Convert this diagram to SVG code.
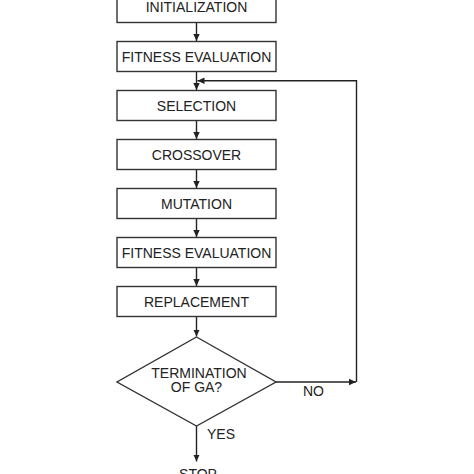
<svg xmlns="http://www.w3.org/2000/svg" width="474" height="474" viewBox="0 0 474 474">
<defs>
<marker id="ah" markerWidth="8" markerHeight="8" refX="7" refY="4" orient="auto" markerUnits="userSpaceOnUse">
<path d="M0,0.8 L7,4 L0,7.2 Z" fill="#222"/>
</marker>
<style>
.box{fill:#fff;stroke:#333;stroke-width:1.4}
.lbl{font-family:"Liberation Sans",Arial,sans-serif;font-size:14px;fill:#222;text-anchor:middle}
.t{font-family:"Liberation Sans",Arial,sans-serif;font-size:14px;fill:#222}
.c{fill:none;stroke:#222;stroke-width:1.4}
</style>
</defs>
<rect width="474" height="474" fill="#fff"/>
<g id="connectors">
<path class="c" d="M196.5,22.5 V41" marker-end="url(#ah)"/>
<path class="c" d="M196.5,71.5 V90" marker-end="url(#ah)"/>
<path class="c" d="M196.5,120.5 V139" marker-end="url(#ah)"/>
<path class="c" d="M196.5,169.5 V188" marker-end="url(#ah)"/>
<path class="c" d="M196.5,218.5 V237" marker-end="url(#ah)"/>
<path class="c" d="M196.5,267.5 V286" marker-end="url(#ah)"/>
<path class="c" d="M196.5,316.5 V336.5" marker-end="url(#ah)"/>
<path class="c" d="M196.5,426 V461.5" marker-end="url(#ah)"/>
<path class="c" d="M276,382 H356" marker-end="url(#ah)"/>
<path class="c" d="M356.5,382 V80.7 H197.5" marker-end="url(#ah)"/>
</g>
<g id="init"><rect class="box" x="117" y="-7.5" width="159" height="30"/><text class="lbl" x="196.5" y="11.5">INITIALIZATION</text></g>
<g id="fitness1"><rect class="box" x="117" y="41.5" width="159" height="30"/><text class="lbl" x="196.5" y="61.5">FITNESS EVALUATION</text></g>
<g id="selection"><rect class="box" x="117" y="90.5" width="159" height="30"/><text class="lbl" x="196.5" y="110.5">SELECTION</text></g>
<g id="crossover"><rect class="box" x="117" y="139.5" width="159" height="30"/><text class="lbl" x="196.5" y="159.5">CROSSOVER</text></g>
<g id="mutation"><rect class="box" x="117" y="188.5" width="159" height="30"/><text class="lbl" x="196.5" y="208.5">MUTATION</text></g>
<g id="fitness2"><rect class="box" x="117" y="237.5" width="159" height="30"/><text class="lbl" x="196.5" y="257.5">FITNESS EVALUATION</text></g>
<g id="replacement"><rect class="box" x="117" y="286.5" width="159" height="30"/><text class="lbl" x="196.5" y="306.5">REPLACEMENT</text></g>
<g id="termination"><path class="box" d="M196.5,337 L276,382 L196.5,426 L117,382 Z"/><text class="lbl" x="199" y="377.5">TERMINATION</text><text class="lbl" x="196.5" y="392">OF GA?</text></g>
<g id="labels"><text class="t" x="303" y="396">NO</text><text class="t" x="207" y="439">YES</text></g>
<g id="stop"><text class="lbl" x="198" y="479">STOP</text></g>
</svg>
